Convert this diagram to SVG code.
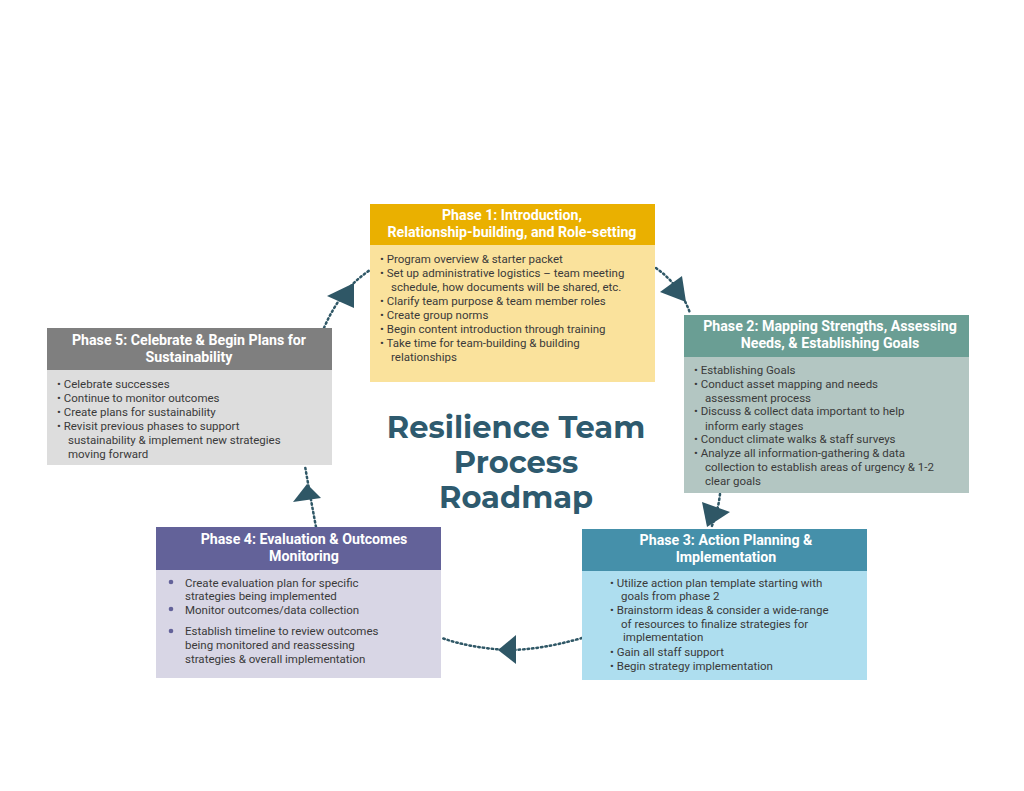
<svg xmlns="http://www.w3.org/2000/svg" width="1024" height="791" viewBox="0 0 1024 791">
<style>
.h{font-family:Roboto,"Liberation Sans",sans-serif;font-weight:bold;font-size:14.2px;fill:#fff;text-anchor:middle}
.b{font-family:Roboto,"Liberation Sans",sans-serif;font-size:11.5px;fill:#3a3a3a}
.c{fill:none;stroke:#2F5766;stroke-width:2.5;stroke-dasharray:1.5 3;stroke-linecap:round}
.a{fill:#2F5766}
.t{font-family:Montserrat,"Open Sans","Liberation Sans",sans-serif;font-weight:bold;font-size:30.5px;fill:#2E5A6E;text-anchor:middle}
</style>
<rect width="1024" height="791" fill="#fff"/>
<g id="connectors">
<path class="c" d="M656,268 Q680,285 690,313"/>
<polygon class="a" points="660,292 682,276 686,302"/>
<path class="c" d="M720,494 Q718,512 711,528"/>
<polygon class="a" points="702,502 730,512 707,527"/>
<path class="c" d="M582,638 Q540,650 508,650 Q470,648 442,638"/>
<polygon class="a" points="498,650 516,635 516,664"/>
<path class="c" d="M316,527 Q310,495 305,466"/>
<polygon class="a" points="307,484 293,502 321,498"/>
<path class="c" d="M324,328 Q340,290 370,270"/>
<polygon class="a" points="327,296 354,308 354,283"/>
</g>
<g id="phase1">
<rect x="370" y="204" width="285" height="41" fill="#EAB000"/>
<rect x="370" y="245" width="285" height="137" fill="#FAE29C"/>
<text class="h" x="512" y="220">Phase 1: Introduction,</text>
<text class="h" x="512" y="237">Relationship-building, and Role-setting</text>
<g class="b"><text x="380" y="263">•  Program overview &amp; starter packet</text>
<text x="380" y="277">•  Set up administrative logistics – team meeting</text>
<text x="391" y="291">schedule, how documents will be shared, etc.</text>
<text x="380" y="305">•  Clarify team purpose &amp; team member roles</text>
<text x="380" y="319">•  Create group norms</text>
<text x="380" y="333">•  Begin content introduction through training</text>
<text x="380" y="347">•  Take time for team-building &amp; building</text>
<text x="391" y="361">relationships</text></g>
</g>
<g id="phase2">
<rect x="684" y="315" width="285" height="42" fill="#6A9E94"/>
<rect x="684" y="357" width="285" height="136" fill="#B3C6C2"/>
<text class="h" x="830" y="331">Phase 2: Mapping Strengths, Assessing</text>
<text class="h" x="830" y="348">Needs, &amp; Establishing Goals</text>
<g class="b"><text x="694" y="374">•  Establishing Goals</text>
<text x="694" y="388">•  Conduct asset mapping and needs</text>
<text x="705" y="402">assessment process</text>
<text x="694" y="415">•  Discuss &amp; collect data important to help</text>
<text x="705" y="430">inform early stages</text>
<text x="694" y="443">•  Conduct climate walks &amp; staff surveys</text>
<text x="694" y="457">•  Analyze all information-gathering &amp; data</text>
<text x="705" y="471">collection to establish areas of urgency &amp; 1-2</text>
<text x="705" y="485">clear goals</text></g>
</g>
<g id="phase3">
<rect x="582" y="529" width="285" height="42" fill="#4590AA"/>
<rect x="582" y="571" width="285" height="109" fill="#AEDEEF"/>
<text class="h" x="726" y="545">Phase 3: Action Planning &amp;</text>
<text class="h" x="726" y="562">Implementation</text>
<g class="b"><text x="610" y="587">•  Utilize action plan template starting with</text>
<text x="621" y="600">goals from phase 2</text>
<text x="610" y="614">•  Brainstorm ideas &amp; consider a wide-range</text>
<text x="621" y="628">of resources to finalize strategies for</text>
<text x="623" y="641">implementation</text>
<text x="610" y="656">•  Gain all staff support</text>
<text x="610" y="670">•  Begin strategy implementation</text></g>
</g>
<g id="phase4">
<rect x="156" y="527" width="285" height="43" fill="#636299"/>
<rect x="156" y="570" width="285" height="108" fill="#D8D6E5"/>
<text class="h" x="304" y="544">Phase 4: Evaluation &amp; Outcomes</text>
<text class="h" x="304" y="561">Monitoring</text>
<g fill="#636299"><circle cx="171" cy="582" r="2.3"/><circle cx="171" cy="609" r="2.3"/><circle cx="171" cy="631" r="2.3"/></g>
<g class="b"><text x="185" y="587">Create evaluation plan for specific</text>
<text x="185" y="600">strategies being implemented</text>
<text x="185" y="614">Monitor outcomes/data collection</text>
<text x="185" y="635">Establish timeline to review outcomes</text>
<text x="185" y="649">being monitored and reassessing</text>
<text x="185" y="663">strategies &amp; overall implementation</text></g>
</g>
<g id="phase5">
<rect x="47" y="328" width="285" height="42" fill="#7F7F7F"/>
<rect x="47" y="370" width="285" height="95" fill="#DDDDDD"/>
<text class="h" x="189" y="345">Phase 5: Celebrate &amp; Begin Plans for</text>
<text class="h" x="189" y="362">Sustainability</text>
<g class="b"><text x="57" y="388">•  Celebrate successes</text>
<text x="57" y="402">•  Continue to monitor outcomes</text>
<text x="57" y="416">•  Create plans for sustainability</text>
<text x="57" y="430">•  Revisit previous phases to support</text>
<text x="68" y="444">sustainability &amp; implement new strategies</text>
<text x="68" y="458">moving forward</text></g>
</g>
<g id="title">
<text class="t" x="516" y="438">Resilience Team</text>
<text class="t" x="516" y="473">Process</text>
<text class="t" x="516" y="508">Roadmap</text>
</g>
</svg>
